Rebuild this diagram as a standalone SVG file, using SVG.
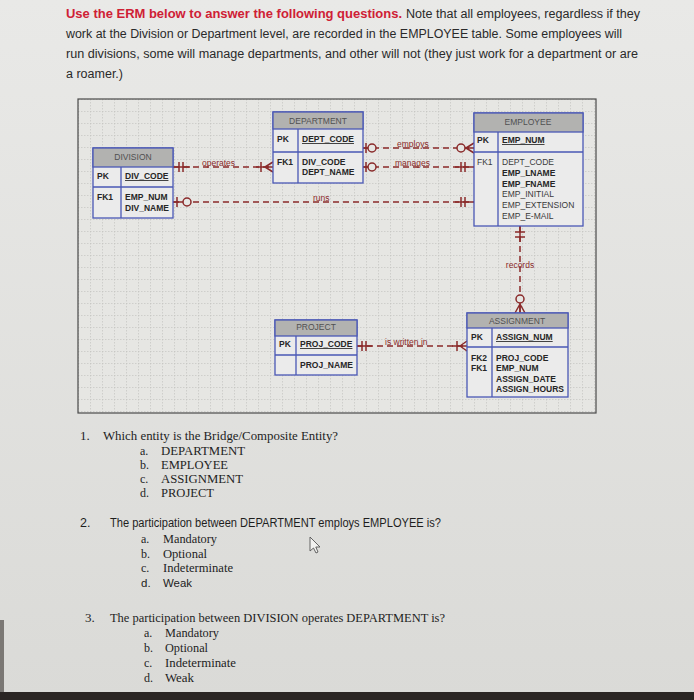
<svg xmlns="http://www.w3.org/2000/svg" width="694" height="700" viewBox="0 0 694 700">
<defs>
<linearGradient id="bg" x1="0" y1="0" x2="0" y2="1">
<stop offset="0" stop-color="#e9e9e7"/>
<stop offset="1" stop-color="#dadad7"/>
</linearGradient>
<pattern id="grid" width="12" height="12" patternUnits="userSpaceOnUse" x="78" y="99">
<rect width="12" height="12" fill="#e6e6e3"/>
<path d="M0.5 0V12M0 0.5H12" stroke="#c4c4c0" stroke-width="0.7" stroke-dasharray="1.5 1.5" fill="none"/>
</pattern>
<style>
.top{font-family:"Liberation Sans",Arial,sans-serif;font-size:12.5px;fill:#2a2a2a}
.red{fill:#cf2035;font-weight:bold}
.box{fill:#ebebeb;stroke:#4a58b5;stroke-width:1.3}
.hdr{fill:#b2b2b0;stroke:#4a58b5;stroke-width:1.3}
.sep{stroke:#4a58b5;stroke-width:1.3;fill:none}
.et{font-family:"Liberation Sans",Arial,sans-serif;font-size:8.5px;fill:#262626;font-weight:bold}
.en{font-family:"Liberation Sans",Arial,sans-serif;font-size:8.5px;fill:#3a3a3a}
.eh{font-family:"Liberation Sans",Arial,sans-serif;font-size:8.5px;fill:#505050;text-anchor:middle}
.u{text-decoration:underline}
.rel{stroke:#8a2a2a;stroke-width:1.5;fill:none;stroke-dasharray:6 4}
.sym{stroke:#8a2a2a;stroke-width:1.5;fill:none}
.circ{stroke:#8a2a2a;stroke-width:1.5;fill:#e6e6e3}
.lbl{font-family:"Liberation Sans",Arial,sans-serif;font-size:8.5px;fill:#8a2a2a}
.q{font-family:"Liberation Serif","Times New Roman",serif;font-size:13px;fill:#1e1e1e}
.o{font-family:"Liberation Serif","Times New Roman",serif;font-size:12px;fill:#1e1e1e}
.qs{font-family:"Liberation Sans",Arial,sans-serif;font-size:12.5px;fill:#1e1e1e}
.os{font-family:"Liberation Sans",Arial,sans-serif;font-size:11.5px;fill:#1e1e1e}
</style>
</defs>
<rect width="694" height="700" fill="url(#bg)"/>

<g id="intro">
<text class="top red" x="66" y="18" textLength="336" lengthAdjust="spacingAndGlyphs">Use the ERM below to answer the following questions.</text>
<text class="top" x="406" y="18" textLength="234" lengthAdjust="spacingAndGlyphs">Note that all employees, regardless if they</text>
<text class="top" x="66" y="38" textLength="556" lengthAdjust="spacingAndGlyphs">work at the Division or Department level, are recorded in the EMPLOYEE table.  Some employees will</text>
<text class="top" x="66" y="58" textLength="572" lengthAdjust="spacingAndGlyphs">run divisions, some will manage departments, and other will not (they just work for a department or are</text>
<text class="top" x="66" y="78" textLength="57" lengthAdjust="spacingAndGlyphs">a roamer.)</text>
</g>

<rect x="78" y="99" width="518" height="314" fill="url(#grid)" stroke="#4a4a4a" stroke-width="1.2"/>

<g id="connectors">
<!-- operates -->
<line class="rel" x1="173" y1="167" x2="273" y2="167"/>
<path class="sym" d="M173 167H190M256 167H273M179 162V172M183 162V172M261 162V172M265 167L273 162M265 167L273 172"/>
<text class="lbl" x="202" y="166">operates</text>
<!-- runs -->
<line class="rel" x1="173" y1="202" x2="474" y2="202"/>
<path class="sym" d="M173 202H183M455 202H474M177 197V207M461 197V207M465 197V207"/>
<circle class="circ" cx="187" cy="202" r="4"/>
<text class="lbl" x="313" y="201">runs</text>
<!-- employs -->
<line class="rel" x1="363" y1="148" x2="474" y2="148"/>
<path class="sym" d="M363 148H368M465 148H474M366 143V153M466 148L474 143M466 148L474 153"/>
<circle class="circ" cx="372" cy="148" r="4"/>
<circle class="circ" cx="461" cy="148" r="4"/>
<text class="lbl" x="397" y="147">employs</text>
<!-- manages -->
<line class="rel" x1="363" y1="167" x2="474" y2="167"/>
<path class="sym" d="M363 167H368M455 167H474M366 162V172M461 162V172M465 162V172"/>
<circle class="circ" cx="372" cy="167" r="4"/>
<text class="lbl" x="395" y="166">manages</text>
<!-- records -->
<line class="rel" x1="520" y1="226" x2="520" y2="313"/>
<path class="sym" d="M520 226V242M520 302V313M515 232H525M515 237H525M520 304L515 313M520 304L525 313"/>
<circle class="circ" cx="520" cy="299" r="4"/>
<text class="lbl" x="520" y="268" text-anchor="middle">records</text>
<!-- is written in -->
<line class="rel" x1="357" y1="346" x2="467" y2="346"/>
<path class="sym" d="M357 346H372M452 346H467M362 341V351M366 341V351M457 341V351M460 346L467 341M460 346L467 351"/>
<text class="lbl" x="385" y="345">is written in</text>
</g>

<g id="division">
<rect class="box" x="93" y="148" width="80" height="70"/>
<rect class="hdr" x="93" y="148" width="80" height="19"/>
<path class="sep" d="M93 187H173M121 167V218"/>
<text class="eh" x="133" y="160">DIVISION</text>
<text class="et" x="97" y="179">PK</text>
<text class="et u" x="125" y="179">DIV_CODE</text>
<text class="et" x="97" y="200">FK1</text>
<text class="et" x="125" y="200">EMP_NUM</text>
<text class="et" x="125" y="211">DIV_NAME</text>
</g>

<g id="department">
<rect class="box" x="273" y="112" width="90" height="71"/>
<rect class="hdr" x="273" y="112" width="90" height="17"/>
<path class="sep" d="M273 152H363M298 129V183"/>
<text class="eh" x="318" y="124">DEPARTMENT</text>
<text class="et" x="277" y="142">PK</text>
<text class="et u" x="302" y="142">DEPT_CODE</text>
<text class="et" x="277" y="165">FK1</text>
<text class="et" x="302" y="165">DIV_CODE</text>
<text class="et" x="302" y="175">DEPT_NAME</text>
</g>

<g id="employee">
<rect class="box" x="474" y="113" width="109" height="113"/>
<rect class="hdr" x="474" y="113" width="109" height="19"/>
<path class="sep" d="M474 152H583M498 132V226"/>
<text class="eh" x="528" y="125">EMPLOYEE</text>
<text class="et" x="477" y="143">PK</text>
<text class="et u" x="502" y="143">EMP_NUM</text>
<text class="en" x="477" y="165">FK1</text>
<text class="en" x="502" y="165">DEPT_CODE</text>
<text class="et" x="502" y="176">EMP_LNAME</text>
<text class="et" x="502" y="187">EMP_FNAME</text>
<text class="en" x="502" y="197">EMP_INITIAL</text>
<text class="en" x="502" y="208">EMP_EXTENSION</text>
<text class="en" x="502" y="219">EMP_E-MAIL</text>
</g>

<g id="assignment">
<rect class="box" x="467" y="313" width="101" height="84"/>
<rect class="hdr" x="467" y="313" width="101" height="15"/>
<path class="sep" d="M467 347H568M492 328V397"/>
<text class="eh" x="517" y="324">ASSIGNMENT</text>
<text class="et" x="471" y="340">PK</text>
<text class="et u" x="496" y="340">ASSIGN_NUM</text>
<text class="et" x="471" y="361">FK2</text>
<text class="et" x="471" y="371">FK1</text>
<text class="et" x="496" y="361">PROJ_CODE</text>
<text class="et" x="496" y="371">EMP_NUM</text>
<text class="et" x="496" y="382">ASSIGN_DATE</text>
<text class="et" x="496" y="392">ASSIGN_HOURS</text>
</g>

<g id="project">
<rect class="box" x="275" y="320" width="82" height="55"/>
<rect class="hdr" x="275" y="320" width="82" height="16"/>
<path class="sep" d="M275 355H357M296 336V375"/>
<text class="eh" x="316" y="330">PROJECT</text>
<text class="et" x="279" y="347">PK</text>
<text class="et u" x="300" y="347">PROJ_CODE</text>
<text class="et" x="300" y="368">PROJ_NAME</text>
</g>

<g id="questions">
<text class="q" x="80" y="440">1.</text>
<text class="q" x="103" y="440" textLength="235" lengthAdjust="spacingAndGlyphs">Which entity is the Bridge/Composite Entity?</text>
<text class="o" x="140" y="455">a.</text><text class="o" x="161" y="455" textLength="84" lengthAdjust="spacingAndGlyphs">DEPARTMENT</text>
<text class="o" x="140" y="469">b.</text><text class="o" x="161" y="469" textLength="67" lengthAdjust="spacingAndGlyphs">EMPLOYEE</text>
<text class="o" x="140" y="483">c.</text><text class="o" x="161" y="483" textLength="82" lengthAdjust="spacingAndGlyphs">ASSIGNMENT</text>
<text class="o" x="140" y="497">d.</text><text class="o" x="161" y="497" textLength="53" lengthAdjust="spacingAndGlyphs">PROJECT</text>

<text class="qs" x="80" y="527">2.</text>
<text class="qs" x="110" y="527" textLength="331" lengthAdjust="spacingAndGlyphs">The participation between DEPARTMENT employs EMPLOYEE is?</text>
<text class="o" x="141" y="543">a.</text><text class="o" x="163" y="543" textLength="54" lengthAdjust="spacingAndGlyphs">Mandatory</text>
<text class="o" x="141" y="558">b.</text><text class="o" x="163" y="558" textLength="44" lengthAdjust="spacingAndGlyphs">Optional</text>
<text class="o" x="141" y="572">c.</text><text class="o" x="163" y="572" textLength="70" lengthAdjust="spacingAndGlyphs">Indeterminate</text>
<text class="os" x="141" y="587">d.</text><text class="os" x="163" y="587" textLength="29" lengthAdjust="spacingAndGlyphs">Weak</text>
<polygon points="310,537 310,551 313.5,548 316,553 318,552 315.8,547 320,547" fill="#f2f2f0" stroke="#555" stroke-width="0.9"/>

<text class="q" x="85" y="622">3.</text>
<text class="q" x="110" y="622" textLength="335" lengthAdjust="spacingAndGlyphs">The participation between DIVISION operates DEPARTMENT is?</text>
<text class="o" x="144" y="637">a.</text><text class="o" x="165" y="637" textLength="54" lengthAdjust="spacingAndGlyphs">Mandatory</text>
<text class="o" x="144" y="652">b.</text><text class="o" x="165" y="652" textLength="43" lengthAdjust="spacingAndGlyphs">Optional</text>
<text class="o" x="144" y="667">c.</text><text class="o" x="165" y="667" textLength="71" lengthAdjust="spacingAndGlyphs">Indeterminate</text>
<text class="o" x="144" y="682">d.</text><text class="o" x="165" y="682" textLength="29" lengthAdjust="spacingAndGlyphs">Weak</text>
</g>

<rect x="0" y="692" width="694" height="8" fill="#2b2624"/>
<rect x="0" y="620" width="4" height="72" fill="#3a3532" opacity="0.6"/>
</svg>
